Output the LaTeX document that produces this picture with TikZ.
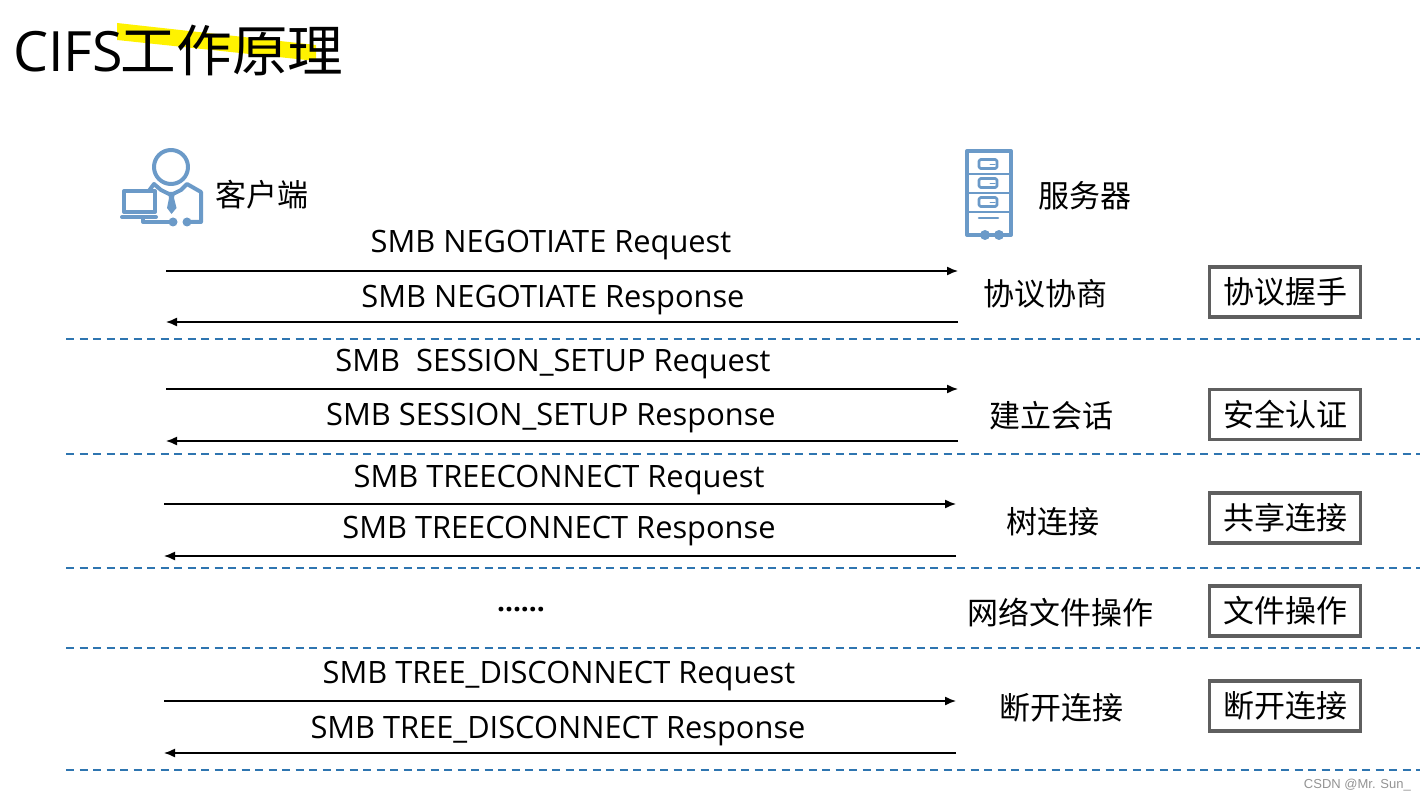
\documentclass[tikz,border=0pt]{standalone}
\usepackage{fontspec}
\setmainfont{Open Sans}
\newfontfamily\cjk{Noto Sans CJK SC}
\newfontfamily\wmfont{Liberation Sans}
\usetikzlibrary{arrows.meta}
\definecolor{iconblue}{HTML}{6B9AC8}
\definecolor{dashblue}{HTML}{2E75B0}
\definecolor{boxgray}{HTML}{5F5F5F}
\tikzset{
 x=1pt,y=-1pt,
 msg/.style={inner sep=0pt,font=\fontsize{30.8}{31}\selectfont,text=black},
 zh/.style={inner sep=0pt,font=\cjk\fontsize{31}{31}\selectfont,text=black},
 tagbox/.style={draw=boxgray,line width=3.2pt,minimum width=151pt,minimum height=50pt,inner sep=0pt,font=\cjk\fontsize{31}{31}\selectfont},
 arrowline/.style={draw=black,line width=1.4pt,-{Latex[length=11pt,width=9pt]}},
 sep/.style={draw=dashblue,line width=1.5pt,dash pattern=on 8pt off 5.5pt},
 icon/.style={draw=iconblue,line width=4pt,line cap=round,line join=round},
}
\begin{document}
\begin{tikzpicture}
\useasboundingbox (0,0) rectangle (1426,799);
% title
\fill[yellow] (117,23) -- (316,45) -- (316,61) -- (117,40) -- cycle;
\node[anchor=west,inner sep=0pt,font=\fontsize{55.6}{56}\selectfont] (title) at (13,50.5) {CIFS\hspace{-2pt}{\cjk 工作原理}};
% client icon
\draw[icon] (171,167) circle (17);
\draw[icon] (148,192) -- (154,184) -- (161,190) -- (171,195) -- (181,190) -- (187,184) -- (201,192) -- (201,222) -- (187,222);
\fill[iconblue] (168,192) -- (175,192) -- (174,198) -- (176.5,208) -- (171.5,214) -- (167,208) -- (169,198) -- cycle;
\draw[icon,fill=white] (124,212) -- (124,191) -- (155,191) -- (155,212) -- cycle;
\draw[icon] (122,217) -- (156,217);
\draw[icon] (143,219) -- (143,222) -- (173,222);
\fill[iconblue] (173,222) circle (4.5) (187,222) circle (4.5);
\node[zh,anchor=west] (client) at (215,195) {客户端};
% server icon
\draw[icon] (967,151) rectangle (1011,235);
\draw[icon,line width=2pt] (967,174) -- (1011,174) (967,193) -- (1011,193) (967,212) -- (1011,212);
\foreach \y in {164,183,202} {
  \draw[icon,line width=2.6pt,rounded corners=1.5pt] (979,\y-4.5) rectangle (997,\y+4.5);
  \draw[icon,line width=1pt] (990,\y+1) -- (995,\y+1);
}
\draw[icon,line width=2.6pt] (979,218) -- (998,218);
\fill[iconblue] (985,235) circle (5) (999,235) circle (5);
\node[zh,anchor=west] (server) at (1038,195.5) {服务器};
% coordinates for connectors
\coordinate (a1) at (166,271); \coordinate (b1) at (958,271);
\coordinate (a2) at (166,322); \coordinate (b2) at (958,322);
\coordinate (a3) at (166,389); \coordinate (b3) at (958,389);
\coordinate (a4) at (166,441); \coordinate (b4) at (958,441);
\coordinate (a5) at (164,504); \coordinate (b5) at (956,504);
\coordinate (a6) at (164,556); \coordinate (b6) at (956,556);
\coordinate (a7) at (164,701); \coordinate (b7) at (956,701);
\coordinate (a8) at (164,753); \coordinate (b8) at (956,753);
\draw[arrowline] (a1) -- (b1);
\draw[arrowline] (b2) -- (a2);
\draw[arrowline] (a3) -- (b3);
\draw[arrowline] (b4) -- (a4);
\draw[arrowline] (a5) -- (b5);
\draw[arrowline] (b6) -- (a6);
\draw[arrowline] (a7) -- (b7);
\draw[arrowline] (b8) -- (a8);
% separators
\foreach \n/\y in {s1/339,s2/454,s3/568,s4/648,s5/770} {
  \coordinate (\n l) at (66,\y); \coordinate (\n r) at (1420,\y);
  \draw[sep] (\n l) -- (\n r);
}
% messages
\node[msg] (m1) at (551,245.5) {SMB NEGOTIATE Request};
\node[msg] (m2) at (553,300.5) {SMB NEGOTIATE Response};
\node[msg] (m3) at (553,364.5) {SMB\ \ SESSION\_SETUP Request};
\node[msg] (m4) at (551,418.5) {SMB SESSION\_SETUP Response};
\node[msg] (m5) at (559,480.5) {SMB TREECONNECT Request};
\node[msg] (m6) at (559,531.5) {SMB TREECONNECT Response};
\node[msg,font=\bfseries\fontsize{28}{28}\selectfont] (m7) at (521,610) {......};
\node[msg] (m8) at (559,676.5) {SMB TREE\_DISCONNECT Request};
\node[msg] (m9) at (558,731.5) {SMB TREE\_DISCONNECT Response};
% phase labels
\node[zh] (p1) at (1045,294) {协议协商};
\node[zh] (p2) at (1051,416) {建立会话};
\node[zh] (p3) at (1053,522) {树连接};
\node[zh] (p4) at (1060,613) {网络文件操作};
\node[zh] (p5) at (1061,708) {断开连接};
% tag boxes
\node[tagbox] (t1) at (1285,292) {协议握手};
\node[tagbox] (t2) at (1285,414.5) {安全认证};
\node[tagbox] (t3) at (1285,518) {共享连接};
\node[tagbox] (t4) at (1285,611) {文件操作};
\node[tagbox] (t5) at (1285,706) {断开连接};
% watermark
\node[anchor=east,inner sep=0pt,text=gray!85,font=\wmfont\fontsize{13}{14}\selectfont] (wm) at (1411,785) {CSDN @Mr. Sun\_};
\end{tikzpicture}
\end{document}
